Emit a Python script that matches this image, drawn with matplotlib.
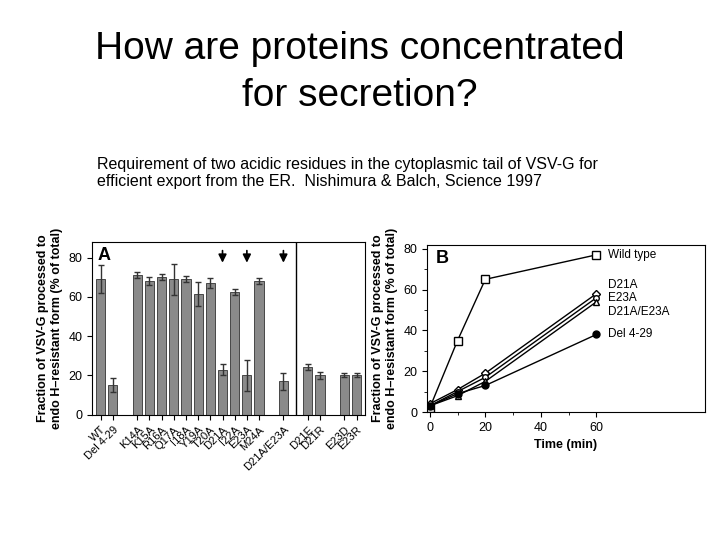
import matplotlib.pyplot as plt

plt.rcParams['font.family'] = ['Liberation Sans', 'DejaVu Sans']

# Panel A data
mutants = ['WT', 'Del 4-29', 'K14A', 'K15A', 'R16A', 'Q17A', 'I18A', 'Y19A', 'T20A',
           'D21A', 'I22A', 'E23A', 'M24A', 'D21A/E23A', 'D21E', 'D21R', 'E23D', 'E23R']
bar_pos = [0, 1, 3, 4, 5, 6, 7, 8, 9, 10, 11, 12, 13, 15, 17, 18, 20, 21]
fraction = [69, 15, 71, 68, 70, 69, 69, 61.5, 67, 23, 62.5, 20, 68, 17, 24.5, 20, 20, 20]
err = [7, 3.5, 1.5, 2, 1.5, 8, 1.5, 6, 2.5, 3, 1.5, 8, 1.5, 4.5, 1.5, 2, 1, 1]
arrow_pos = [10, 12, 15]

# Panel B data
time_min = [0, 10, 20, 60]
wild_type = [2, 35, 65, 77]
d21a = [4, 11, 19, 58]
e23a = [3, 10, 17, 56]
d21a_e23a = [3, 8, 15, 54]
del_4_29 = [3, 9, 13, 38]

fig = plt.figure(figsize=(7.2, 5.4), dpi=100)
fig.text(0.5, 0.865, 'How are proteins concentrated\nfor secretion?', ha='center', va='center',
         fontsize=28, linespacing=1.4)
fig.text(0.135, 0.655, 'Requirement of two acidic residues in the cytoplasmic tail of VSV-G for\n'
         'efficient export from the ER.  Nishimura & Balch, Science 1997', fontsize=11.5)

ylab = 'Fraction of VSV-G processed to\nendo H\u2013resistant form (% of total)'

ax = fig.add_axes([0.128, 0.232, 0.379, 0.32])
ax.bar(bar_pos, fraction, width=0.75, color='#8a8a8a', edgecolor='#333333', linewidth=0.6,
       yerr=err, error_kw=dict(ecolor='#333333', elinewidth=1, capsize=2))
for p in arrow_pos:
    ax.annotate('', xy=(p, 76), xytext=(p, 85),
                arrowprops=dict(arrowstyle='-|>', color='black', lw=1.2, mutation_scale=12))
ax.axvline(16, color='black', lw=1)
ax.set_xlim(-0.7, 21.7)
ax.set_ylim(0, 88)
ax.set_yticks([0, 20, 40, 60, 80])
ax.set_xticks(bar_pos)
ax.set_xticklabels(mutants, rotation=45, ha='right', rotation_mode='anchor', fontsize=8)
ax.tick_params(axis='y', labelsize=9)
ax.text(0.02, 0.97, 'A', transform=ax.transAxes, fontsize=13, fontweight='bold', va='top')
ax.set_ylabel(ylab, fontsize=9, fontweight='bold')

bx = fig.add_axes([0.593, 0.237, 0.386, 0.31])
bx.plot(time_min, wild_type, 'k-s', mfc='white', ms=6, lw=1)
bx.plot(time_min, d21a, 'k-D', mfc='white', ms=4, lw=1)
bx.plot(time_min, e23a, 'k-o', mfc='white', ms=4, lw=1)
bx.plot(time_min, d21a_e23a, 'k-^', mfc='white', ms=4, lw=1)
bx.plot(time_min, del_4_29, 'k-o', mfc='black', ms=5, lw=1)
bx.text(64, 77, 'Wild type', va='center', fontsize=8.5)
bx.text(64, 62, 'D21A', va='center', fontsize=8.5)
bx.text(64, 56, 'E23A', va='center', fontsize=8.5)
bx.text(64, 49, 'D21A/E23A', va='center', fontsize=8.5)
bx.text(64, 38, 'Del 4-29', va='center', fontsize=8.5)
bx.text(0.03, 0.97, 'B', transform=bx.transAxes, fontsize=13, fontweight='bold', va='top')
bx.set_xlim(-1, 99)
bx.set_ylim(0, 82)
bx.set_xticks([0, 20, 40, 60])
bx.set_xticks([10, 30, 50], minor=True)
bx.set_yticks([0, 20, 40, 60, 80])
bx.set_yticks([10, 30, 50, 70], minor=True)
bx.tick_params(labelsize=9)
bx.set_xlabel('Time (min)', fontsize=9, fontweight='bold')
bx.set_ylabel(ylab, fontsize=9, fontweight='bold')

fig.savefig('out.png', dpi=100)
